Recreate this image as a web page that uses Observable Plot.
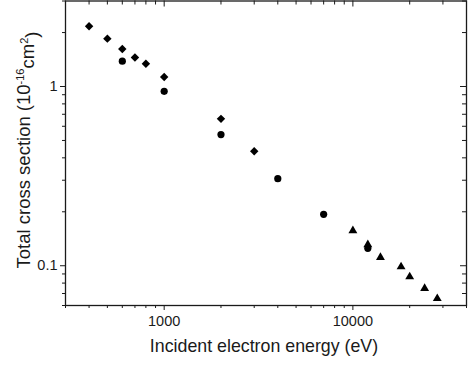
<!DOCTYPE html>
<html>
<head>
<meta charset="utf-8">
<script src="https://cdn.jsdelivr.net/npm/d3@7"></script>
<script src="https://cdn.jsdelivr.net/npm/@observablehq/plot@0.6"></script>
<style>
  html, body { margin: 0; padding: 0; background: #fff; }
  #chart svg { display: block; }
</style>
</head>
<body>
<div id="chart"></div>
<script>
// Data (energy in eV, cross section in 1e-16 cm^2)
const diamondEnergy = [400, 500, 600, 700, 800, 1000, 2000, 3000];
const diamondSigma  = [2.17, 1.85, 1.62, 1.45, 1.34, 1.13, 0.66, 0.435];
const circleEnergy  = [600, 1000, 2000, 4000, 7000, 12000];
const circleSigma   = [1.385, 0.94, 0.539, 0.306, 0.1935, 0.125];
const triEnergy     = [10000, 12000, 14000, 18000, 20000, 24000, 28000];
const triSigma      = [0.157, 0.131, 0.1114, 0.0987, 0.0868, 0.0747, 0.0656];

// Axis ticks
const xMajor = [1000, 10000];
const xMinor = [300, 400, 500, 600, 700, 800, 900, 2000, 3000, 4000, 5000, 6000, 7000, 8000, 9000, 20000, 30000, 40000];
const yMajor = [0.1, 1];
const yMinor = [0.06, 0.07, 0.08, 0.09, 0.2, 0.3, 0.4, 0.5, 0.6, 0.7, 0.8, 0.9, 2, 3];

const xLabel = "Incident electron energy (eV)";

const toRows = (xs, ys) => xs.map((x, i) => ({x, y: ys[i]}));
const diamonds = toRows(diamondEnergy, diamondSigma);
const circles = toRows(circleEnergy, circleSigma);
const triangles = toRows(triEnergy, triSigma);

const ink = "#1a1a1a";
const noText = () => "";

const chart = Plot.plot({
  width: 474,
  height: 365,
  marginLeft: 65,
  marginRight: 8,
  marginTop: 0.5,
  marginBottom: 60,
  style: {fontFamily: "'Liberation Sans', Arial, sans-serif", fontSize: "14px", color: ink, background: "#fff"},
  x: {type: "log", domain: [300, 40000], axis: null},
  y: {type: "log", domain: [0.06, 3], axis: null},
  marks: [
    // bottom axis (outward ticks)
    Plot.axisX(xMajor, {anchor: "bottom", tickSize: 5, tickPadding: 5, tickFormat: d => String(d), label: null, stroke: ink, fill: ink, fontSize: 14.5}),
    Plot.axisX(xMinor, {anchor: "bottom", tickSize: 3, tickFormat: noText, label: null, stroke: ink}),
    // top mirrored ticks (inward)
    Plot.axisX(xMajor, {anchor: "bottom", frameAnchor: "top", tickSize: 6, tickFormat: noText, label: null, stroke: ink}),
    Plot.axisX(xMinor, {anchor: "bottom", frameAnchor: "top", tickSize: 4, tickFormat: noText, label: null, stroke: ink}),
    // left axis (outward ticks)
    Plot.axisY(yMajor, {anchor: "left", tickSize: 5, tickPadding: 3, tickFormat: d => String(d), label: null, stroke: ink, fill: ink, fontSize: 14.5}),
    Plot.axisY(yMinor, {anchor: "left", tickSize: 3, tickFormat: noText, label: null, stroke: ink}),
    // right mirrored ticks (inward)
    Plot.axisY(yMajor, {anchor: "left", frameAnchor: "right", tickSize: 6, tickFormat: noText, label: null, stroke: ink}),
    Plot.axisY(yMinor, {anchor: "left", frameAnchor: "right", tickSize: 4, tickFormat: noText, label: null, stroke: ink}),
    Plot.frame({stroke: ink, strokeWidth: 1.3}),
    Plot.dot(diamonds, {x: "x", y: "y", symbol: "diamond2", r: 3.8, fill: "#000", stroke: "none"}),
    Plot.dot(circles, {x: "x", y: "y", symbol: "circle", r: 3.6, fill: "#000", stroke: "none"}),
    Plot.dot(triangles, {x: "x", y: "y", symbol: "triangle", r: 3.3, fill: "#000", stroke: "none"})
  ]
});

document.getElementById("chart").appendChild(chart);

// Axis titles (the y title needs superscripts, so it is built with tspans)
const svg = d3.select(chart.tagName.toLowerCase() === "svg" ? chart : chart.querySelector("svg"));
svg.append("text")
  .attr("x", 264)
  .attr("y", 352)
  .attr("text-anchor", "middle")
  .attr("fill", ink)
  .style("font-family", "'Liberation Sans', Arial, sans-serif")
  .style("font-size", "17.8px")
  .text(xLabel);

const yt = svg.append("text")
  .attr("transform", "translate(30,150) rotate(-90)")
  .attr("text-anchor", "middle")
  .attr("fill", ink)
  .style("font-family", "'Liberation Sans', Arial, sans-serif")
  .style("font-size", "18.5px");
yt.append("tspan").text("Total cross section (10");
yt.append("tspan").attr("dy", "-0.55em").style("font-size", "11px").text("-16");
yt.append("tspan").attr("dy", "0.55em").text("cm");
yt.append("tspan").attr("dy", "-0.55em").style("font-size", "11px").text("2");
yt.append("tspan").attr("dy", "0.55em").text(")");
</script>
</body>
</html>
